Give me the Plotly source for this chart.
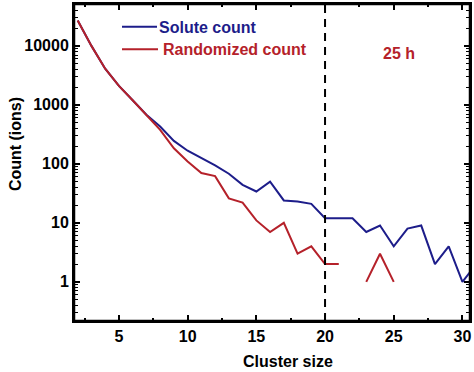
import plotly.graph_objects as go

cluster_size = list(range(2, 32))
solute_count = [27000, 10000, 4100, 2100, 1200, 680, 430, 245, 167, 125,
                94, 68, 44, 34, 50, 24, 23, 21, 12, 12,
                12, 7, 9, 4, 8, 9, 2, 4, 1, 2]
random_size = list(range(2, 26))
random_count = [27000, 10000, 4100, 2100, 1200, 670, 376, 184, 110, 70,
                62, 26, 22, 11, 7, 10, 3, 4, 2, 2,
                None, 1, 3, 1]
x_ticks = [5, 10, 15, 20, 25, 30]
y_ticks = [1, 10, 100, 1000, 10000]
threshold = 20

BLUE = "#1d1d8a"
RED = "#b5212a"
FONT = "Liberation Sans"

fig = go.Figure()
fig.add_trace(go.Scatter(x=cluster_size, y=solute_count, mode="lines",
                         line=dict(color=BLUE, width=2), name="Solute count",
                         connectgaps=False))
fig.add_trace(go.Scatter(x=random_size, y=random_count, mode="lines",
                         line=dict(color=RED, width=2), name="Randomized count",
                         connectgaps=False))

L, R, T, B = 74, 4, 2, 51
W, H = 474, 372
pw, ph = W - L - R, H - T - B

def px(xp):
    return (xp - L) / pw

def py(yp):
    return (H - B - yp) / ph

fig.add_shape(type="line", xref="x", yref="paper", x0=threshold, x1=threshold,
              y0=0, y1=1, line=dict(color="black", width=2, dash="8px,6px"))
# plot frame
fig.add_shape(type="rect", xref="paper", yref="paper", x0=0, x1=1, y0=0, y1=1,
              line=dict(color="black", width=2.5), layer="above")

# legend samples
fig.add_shape(type="line", xref="paper", yref="paper", x0=px(122), x1=px(157),
              y0=py(25), y1=py(25), line=dict(color=BLUE, width=2))
fig.add_shape(type="line", xref="paper", yref="paper", x0=px(122), x1=px(158),
              y0=py(47.5), y1=py(47.5), line=dict(color=RED, width=2))

ann_font = dict(family=FONT, size=16, weight="bold")
fig.add_annotation(x=px(157), y=py(25.5), xref="paper", yref="paper",
                   text="Solute count", showarrow=False, xanchor="left",
                   yanchor="middle", font=dict(ann_font, color=BLUE))
fig.add_annotation(x=px(161), y=py(47.5), xref="paper", yref="paper",
                   text="Randomized count", showarrow=False, xanchor="left",
                   yanchor="middle", font=dict(ann_font, color=RED))
fig.add_annotation(x=px(398.5), y=py(52), xref="paper", yref="paper",
                   text="25 h", showarrow=False, xanchor="center",
                   yanchor="middle", font=dict(ann_font, color=RED))
fig.add_annotation(x=px(288), y=py(362), xref="paper", yref="paper",
                   text="Cluster size", showarrow=False, xanchor="center",
                   yanchor="middle", font=dict(ann_font, color="black"))
fig.add_annotation(x=px(15), y=py(143), xref="paper", yref="paper",
                   text="Count (ions)", showarrow=False, xanchor="center",
                   yanchor="middle", textangle=-90,
                   font=dict(ann_font, color="black"))

tick_font = dict(family=FONT, size=16, weight="bold", color="black")
fig.update_xaxes(range=[1.73, 30.55], tickvals=x_ticks, ticks="inside",
                 ticklen=6, tickwidth=1.5, tickcolor="black",
                 showline=True, linecolor="black", linewidth=2, mirror="allticks",
                 showgrid=False, zeroline=False, tickfont=tick_font,
                 minor=dict(ticks="inside", ticklen=3, tickwidth=1.5,
                            tickcolor="black", tick0=0, dtick=2.5, showgrid=False))
fig.update_yaxes(type="log", range=[-0.664, 4.71], tickvals=y_ticks,
                 ticktext=[str(v) for v in y_ticks], ticks="inside",
                 ticklen=6, tickwidth=1.5, tickcolor="black",
                 showline=True, linecolor="black", linewidth=2, mirror="allticks",
                 showgrid=False, zeroline=False, tickfont=tick_font,
                 minor=dict(ticks="inside", ticklen=4, tickwidth=1,
                            tickcolor="black", dtick="D1", showgrid=False))

fig.update_layout(width=W, height=H, margin=dict(l=L, r=R, t=T, b=B),
                  paper_bgcolor="white", plot_bgcolor="white",
                  showlegend=False, hovermode=False)

fig.write_html("out.html", config={"displayModeBar": False},
               post_script="document.body.style.margin='0';document.body.style.overflow='hidden';")
